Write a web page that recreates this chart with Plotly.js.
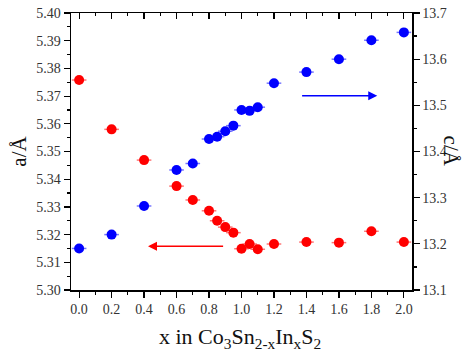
<!DOCTYPE html>
<html>
<head>
<meta charset="utf-8">
<script src="https://cdn.plot.ly/plotly-3.0.1.min.js"></script>
<style>html,body{margin:0;padding:0;background:#fff;}#chart{width:474px;height:353px;}</style>
</head>
<body>
<div id="chart"></div>
<script>
const xVals = [0, 0.2, 0.4, 0.6, 0.7, 0.8, 0.85, 0.9, 0.95, 1.0, 1.05, 1.1, 1.2, 1.4, 1.6, 1.8, 2.0];
const aVals = [5.3758, 5.3580, 5.3469, 5.3375, 5.3325, 5.3286, 5.3250, 5.3227, 5.3207, 5.3149, 5.3166, 5.3147, 5.3166, 5.3173, 5.3171, 5.3212, 5.3173];
const cVals = [13.190, 13.220, 13.282, 13.360, 13.374, 13.427, 13.432, 13.444, 13.456, 13.490, 13.488, 13.496, 13.548, 13.572, 13.600, 13.641, 13.658];
const xTickVals = [0, 0.2, 0.4, 0.6, 0.8, 1.0, 1.2, 1.4, 1.6, 1.8, 2.0];
const xTickText = ['0.0', '0.2', '0.4', '0.6', '0.8', '1.0', '1.2', '1.4', '1.6', '1.8', '2.0'];
const redArrow = {x0: 0.896, x1: 0.424, y: 5.3158};
const blueArrow = {x0: 1.364, x1: 1.836, y: 13.521};

const font = '"Liberation Serif", "DejaVu Serif", serif';
const RED = '#ff0000', BLUE = '#0000ff';

const traces = [
  {x: xVals, y: aVals, type: 'scatter', mode: 'markers', xaxis: 'x', yaxis: 'y',
   marker: {color: RED, size: 10},
   error_x: {type: 'constant', value: 0.045, width: 0, thickness: 1.5, color: 'rgba(255,60,60,0.7)'},
   showlegend: false, hoverinfo: 'skip'},
  {x: xVals, y: cVals, type: 'scatter', mode: 'markers', xaxis: 'x', yaxis: 'y2',
   marker: {color: BLUE, size: 10},
   error_x: {type: 'constant', value: 0.045, width: 0, thickness: 1.5, color: 'rgba(60,60,255,0.7)'},
   showlegend: false, hoverinfo: 'skip'},
  {x: [null], y: [null], xaxis: 'x2', yaxis: 'y', type: 'scatter', mode: 'markers', showlegend: false}
];

const tickFont = {family: font, size: 14, color: '#333'};
const layout = {
  width: 474, height: 353,
  margin: {l: 71, r: 62, t: 13, b: 63},
  paper_bgcolor: '#fff', plot_bgcolor: '#fff',
  showlegend: false,
  font: {family: font},
  xaxis: {range: [-0.05, 2.05], tickvals: xTickVals, ticktext: xTickText,
    ticks: 'outside', ticklen: 6, tickwidth: 1.2, tickcolor: '#000',
    minor: {dtick: 0.1, tick0: 0, ticks: 'outside', ticklen: 3, tickcolor: '#000', showgrid: false},
    showline: true, linecolor: '#000', linewidth: 1.5, showgrid: false, zeroline: false,
    tickfont: tickFont},
  xaxis2: {range: [-0.05, 2.05], overlaying: 'x', side: 'top', anchor: 'y',
    tickvals: xTickVals, showticklabels: false,
    ticks: 'inside', ticklen: 6, tickwidth: 1.2, tickcolor: '#000',
    minor: {dtick: 0.1, tick0: 0, ticks: 'inside', ticklen: 3, tickcolor: '#000', showgrid: false},
    showline: true, linecolor: '#000', linewidth: 1.5, showgrid: false, zeroline: false},
  yaxis: {range: [5.30, 5.40], dtick: 0.01, tick0: 5.30, tickformat: '.2f',
    ticks: 'outside', ticklen: 6, tickwidth: 1.2, tickcolor: '#000',
    minor: {dtick: 0.005, ticks: 'outside', ticklen: 3, tickcolor: '#000', showgrid: false},
    showline: true, linecolor: '#000', linewidth: 1.5, showgrid: false, zeroline: false,
    tickfont: tickFont},
  yaxis2: {range: [13.1, 13.7], dtick: 0.1, tick0: 13.1, tickformat: '.1f', overlaying: 'y', side: 'right', anchor: 'x',
    ticks: 'outside', ticklen: 6, tickwidth: 1.2, tickcolor: '#000',
    minor: {dtick: 0.05, ticks: 'outside', ticklen: 3, tickcolor: '#000', showgrid: false},
    showline: true, linecolor: '#000', linewidth: 1.5, showgrid: false, zeroline: false,
    tickfont: tickFont},
  annotations: [
    {xref: 'x', yref: 'y', axref: 'x', ayref: 'y', x: redArrow.x1, y: redArrow.y, ax: redArrow.x0, ay: redArrow.y,
     text: '', showarrow: true, arrowhead: 2, arrowsize: 1.2, arrowwidth: 1.5, arrowcolor: RED},
    {xref: 'x', yref: 'y2', axref: 'x', ayref: 'y2', x: blueArrow.x1, y: blueArrow.y, ax: blueArrow.x0, ay: blueArrow.y,
     text: '', showarrow: true, arrowhead: 2, arrowsize: 1.2, arrowwidth: 1.5, arrowcolor: BLUE},
    {xref: 'paper', yref: 'paper', x: -0.155, y: 0.5, xanchor: 'center', yanchor: 'middle',
     text: 'a/Å', textangle: -90, showarrow: false, font: {family: font, size: 21, color: '#111'}},
    {xref: 'paper', yref: 'paper', x: 1.117, y: 0.5, xanchor: 'center', yanchor: 'middle',
     text: 'c/Å', textangle: 90, showarrow: false, font: {family: font, size: 21, color: '#111'}},
    {xref: 'paper', yref: 'paper', x: 0.495, y: -0.175, xanchor: 'center', yanchor: 'middle',
     text: 'x in Co<sub>3</sub>Sn<sub>2-x</sub>In<sub>x</sub>S<sub>2</sub>', showarrow: false,
     font: {family: font, size: 22, color: '#111'}}
  ]
};

Plotly.newPlot('chart', traces, layout, {staticPlot: true, displayModeBar: false});
</script>
</body>
</html>
